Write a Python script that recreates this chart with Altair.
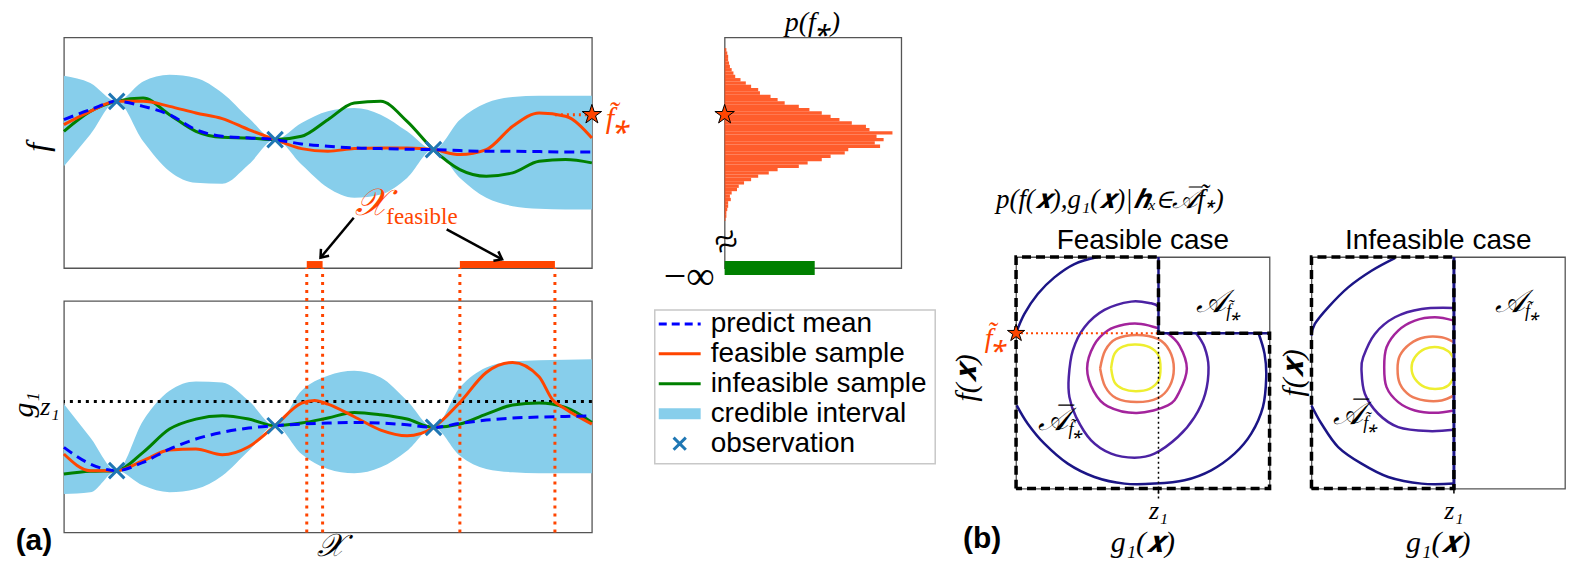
import altair as alt
import pandas as pd

# ---------------- fonts / colours ----------------
SERIF = "Liberation Serif"
SANS = "Liberation Sans"
ORANGE = "#ff4500"
GREEN = "#008000"
BLUE = "#0000ff"
SKY = "#87ceeb"
OBSC = "#1f77b4"
XPATH = "M-1,-1L1,1M1,-1L-1,1"
HEADPATH = "M-1,-0.75L0,0L-1,0.75"
STARPATH = ("M0,-1L0.225,-0.309L0.951,-0.309L0.363,0.118L0.588,0.809L0,0.382"
            "L-0.588,0.809L-0.363,0.118L-0.951,-0.309L-0.225,-0.309Z")

MX = "\U0001D4B3"      # script X
MA = "\U0001D49C"      # script A
BX = "\U0001D499"      # bold italic x
BH = "\U0001D489"      # bold italic h
FSTAR_TXT = "f\u0303\u204e"

# ---------------- panel (a) data ----------------
X_GRID = [0.0, 0.05, 0.1, 0.15, 0.2, 0.25, 0.3, 0.35, 0.4, 0.45, 0.5,
          0.55, 0.6, 0.65, 0.7, 0.75, 0.8, 0.85, 0.9, 0.95, 1.0]

F_UPPER = [578, 556, 501, 561, 581, 571, 526, 451, 386, 436, 471, 481, 461, 411, 356, 446, 496, 514, 518, 518, 518]
F_LOWER = [306, 401, 501, 381, 291, 256, 253, 311, 386, 311, 241, 211, 221, 271, 356, 271, 211, 186, 178, 176, 176]
F_MEAN = [446, 476, 501, 486, 461, 416, 396, 391, 386, 373, 366, 361, 359, 357, 356, 353, 351, 351, 350, 349, 349]
F_FEAS = [431, 471, 501, 501, 486, 466, 449, 416, 386, 359, 351, 359, 361, 361, 356, 341, 356, 426, 466, 456, 391]
F_INFEAS = [411, 471, 501, 511, 461, 411, 393, 391, 386, 396, 446, 496, 501, 441, 356, 296, 276, 286, 321, 326, 316]

G_UPPER = [386, 286, 186, 336, 426, 454, 451, 396, 321, 426, 471, 486, 466, 396, 316, 436, 496, 514, 518, 519, 521]
G_LOWER = [116, 121, 186, 141, 121, 131, 171, 246, 321, 236, 191, 178, 196, 246, 316, 231, 191, 181, 178, 178, 178]
G_MEAN = [256, 206, 186, 211, 251, 281, 301, 314, 321, 326, 329, 331, 329, 324, 316, 328, 338, 344, 347, 349, 351]
G_INFEAS = [176, 184, 186, 241, 311, 341, 351, 341, 321, 329, 344, 361, 354, 341, 316, 326, 356, 383, 389, 376, 331]
X_FEAS_G = [0.0, 0.05, 0.1, 0.15, 0.2, 0.25, 0.3, 0.35, 0.4, 0.45, 0.475, 0.5, 0.55,
            0.6, 0.65, 0.7, 0.75, 0.8, 0.85, 0.9, 0.925, 0.95, 1.0]
G_FEAS = [236, 186, 186, 216, 248, 251, 234, 258, 321, 389, 397, 386, 348,
          308, 291, 316, 391, 481, 511, 468, 400, 371, 326]

OBS_X = [0.1, 0.4, 0.7]
OBS_F = [501, 386, 356]
OBS_G = [186, 321, 316]

F_STAR = 461
Z1 = 394
FEAS_LO = [0.46, 0.75]
FEAS_HI = [0.49, 0.93]

ARROW_X0 = [0.549, 0.725]
ARROW_F0 = [151, 116]
ARROW_X1 = [0.486, 0.830]
ARROW_F1 = [31, 26]
ARROW_ANGLE = [130, 28]

HIST_LO = list(range(141, 661, 10))
HIST_P = [0.005, 0.01, 0.01, 0.015, 0.02, 0.02, 0.035, 0.03, 0.04, 0.07, 0.08, 0.11, 0.15,
          0.19, 0.25, 0.3, 0.42, 0.47, 0.55, 0.6, 0.68, 0.7, 0.88, 0.85, 0.9, 0.86,
          0.95, 0.82, 0.8, 0.72, 0.65, 0.6, 0.55, 0.48, 0.42, 0.34, 0.3, 0.26, 0.2,
          0.19, 0.15, 0.12, 0.09, 0.06, 0.05, 0.04, 0.03, 0.025, 0.02, 0.02, 0.015, 0.01]
HIST_BIN = 10
P_NEG_INF = 0.51

LEGEND_LABELS = ["predict mean", "feasible sample", "infeasible sample",
                 "credible interval", "observation"]
LEGEND_ROW = [0, 1, 2, 3, 4]

# ---------------- panel (b) data ----------------
Z1_B = 427
FSTAR_B = 467
U_MAX = 760
V_MAX = 696
CONTOUR_COLORS = ["#1b1586", "#4b22a3", "#a3249c", "#ef7d57", "#eeee30"]

FC_YELLOW_U = [285, 295, 320, 359, 400, 427, 433, 427, 400, 359, 320, 295, 285]
FC_YELLOW_V = [362, 405, 427, 433, 425, 400, 362, 325, 300, 293, 300, 320, 362]
FC_ORANGE_U = [252, 267, 300, 362, 425, 460, 473, 460, 425, 362, 300, 267, 252]
FC_ORANGE_V = [361, 415, 450, 462, 450, 415, 361, 307, 272, 260, 272, 307, 361]
FC_PURPLE_U = [427, 375, 325, 275, 233, 213, 233, 275, 362, 455, 490, 512, 490, 454]
FC_PURPLE_V = [482, 495, 493, 475, 430, 361, 292, 247, 227, 250, 292, 361, 430, 467]
FC_VIOLET_U = [427, 405, 345, 265, 205, 170, 158, 160, 180, 225, 285, 355, 415, 485, 535, 567, 577, 565, 540]
FC_VIOLET_V = [547, 557, 562, 537, 485, 415, 335, 275, 215, 145, 105, 93, 105, 155, 215, 285, 365, 425, 467]
FC_OUTER1_U = [0, 25, 65, 115, 175, 245]
FC_OUTER1_V = [467, 525, 585, 635, 675, 696]
FC_OUTER2_U = [727, 745, 750, 740, 705, 655, 585, 505, 415, 325, 235, 155, 85, 35, 2]
FC_OUTER2_V = [467, 405, 335, 245, 165, 105, 55, 25, 15, 15, 35, 75, 135, 195, 250]

IC_YELLOW_U = [427, 410, 380, 340, 310, 300, 310, 340, 380, 410, 427]
IC_YELLOW_V = [390, 413, 425, 420, 395, 363, 330, 305, 300, 310, 335]
IC_ORANGE_U = [427, 390, 340, 295, 265, 258, 265, 295, 340, 390, 427]
IC_ORANGE_V = [440, 455, 455, 435, 400, 360, 315, 280, 265, 265, 280]
IC_PURPLE_U = [427, 370, 310, 260, 225, 218, 225, 260, 310, 370, 427]
IC_PURPLE_V = [505, 515, 505, 475, 425, 365, 305, 260, 235, 228, 235]
IC_VIOLET_U = [427, 330, 250, 190, 155, 150, 160, 200, 260, 350, 427]
IC_VIOLET_V = [543, 540, 515, 465, 395, 355, 285, 225, 185, 173, 177]
IC_OUTER1_U = [250, 180, 110, 50, 10, 0]
IC_OUTER1_V = [693, 655, 605, 545, 495, 460]
IC_OUTER2_U = [0, 30, 80, 150, 230, 330, 427]
IC_OUTER2_V = [250, 195, 125, 75, 35, 15, 15]

# ---------------- sizes ----------------
W_A, H_F, H_G = 529, 231, 232
W_H = 177
W_L, H_L = 281, 154
W_B, H_B = 254, 232

sx = alt.Scale(domain=[0, 1], nice=False, zero=False)
sf = alt.Scale(domain=[0, 693], nice=False, zero=False)
sg = alt.Scale(domain=[0, 696], nice=False, zero=False)
sh = alt.Scale(domain=[0, 1], nice=False, zero=False)
su = alt.Scale(domain=[0, U_MAX], nice=False, zero=False)
sv = alt.Scale(domain=[0, V_MAX], nice=False, zero=False)

ONE = pd.DataFrame({"k": [0]})


def note(text, x, y, size, font=SERIF, style="italic", color="black", angle=0,
         align="center", baseline="middle", weight="normal"):
    return alt.Chart(ONE).mark_text(
        text=text, font=font, fontSize=size, fontStyle=style, fontWeight=weight,
        color=color, angle=angle, align=align, baseline=baseline
    ).encode(x=alt.value(x), y=alt.value(y))


HIDDEN = alt.ViewBackground(stroke="transparent")


def spacer(w, h):
    return alt.Chart(ONE).mark_text(text=" ").encode(
        x=alt.value(0), y=alt.value(0)).properties(width=w, height=h, view=HIDDEN)


def X(field="x"):
    return alt.X(f"{field}:Q", scale=sx, axis=None)


def curve(df, field, scale, color, dash=None):
    kw = dict(color=color, strokeWidth=3, interpolate="monotone")
    if dash:
        kw["strokeDash"] = dash
    return alt.Chart(df).mark_line(**kw).encode(
        x=X(), y=alt.Y(f"{field}:Q", scale=scale, axis=None))


def star(df, xenc, yenc, size):
    return alt.Chart(df).mark_point(
        shape=STARPATH, size=size, filled=True, fill=ORANGE, stroke="black",
        strokeWidth=1, opacity=1).encode(x=xenc, y=yenc)


df_f = pd.DataFrame({"x": X_GRID, "hi": F_UPPER, "lo": F_LOWER, "mean": F_MEAN,
                     "feas": F_FEAS, "infeas": F_INFEAS})
df_g = pd.DataFrame({"x": X_GRID, "hi": G_UPPER, "lo": G_LOWER, "mean": G_MEAN,
                     "infeas": G_INFEAS})
df_gfeas = pd.DataFrame({"x": X_FEAS_G, "feas": G_FEAS})
df_obs = pd.DataFrame({"x": OBS_X, "f": OBS_F, "g": OBS_G})
df_fs = pd.DataFrame({"lo": FEAS_LO, "hi": FEAS_HI})
df_edges = pd.DataFrame({"x": FEAS_LO + FEAS_HI})
df_arrow = pd.DataFrame({"x0": ARROW_X0, "f0": ARROW_F0, "x1": ARROW_X1, "f1": ARROW_F1})

arrow_heads = [
    alt.Chart(df_arrow.iloc[[i]]).mark_point(
        shape=HEADPATH, size=200, strokeWidth=2.5, color="black", filled=False,
        opacity=1, angle=ARROW_ANGLE[i]).encode(
        x=X("x1"), y=alt.Y("f1:Q", scale=sf, axis=None))
    for i in range(len(ARROW_ANGLE))
]

f_layers = [
    alt.Chart(df_f).mark_area(color=SKY, interpolate="monotone").encode(
        x=X(), y=alt.Y("lo:Q", scale=sf, axis=None), y2="hi:Q"),
    curve(df_f, "infeas", sf, GREEN),
    curve(df_f, "feas", sf, ORANGE),
    curve(df_f, "mean", sf, BLUE, [10, 6]),
    alt.Chart(df_obs).mark_point(shape=XPATH, size=240, strokeWidth=3, color=OBSC,
                                 filled=False, opacity=1).encode(
        x=X(), y=alt.Y("f:Q", scale=sf, axis=None)),
    alt.Chart(df_fs).mark_rect(color=ORANGE).encode(
        x=X("lo"), x2="hi:Q", y=alt.value(H_F - 7), y2=alt.value(H_F)),
    alt.Chart(pd.DataFrame({"xa": [FEAS_HI[1]], "xb": [1.0], "f": [F_STAR]})).mark_rule(
        color=ORANGE, strokeDash=[2, 4], strokeWidth=3).encode(
        x=X("xa"), x2="xb:Q", y=alt.Y("f:Q", scale=sf, axis=None)),
    star(pd.DataFrame({"x": [1.0], "f": [F_STAR]}), X(),
         alt.Y("f:Q", scale=sf, axis=None), 420),
    alt.Chart(df_arrow).mark_rule(color="black", strokeWidth=2.5).encode(
        x=X("x0"), x2="x1:Q", y=alt.Y("f0:Q", scale=sf, axis=None), y2="f1:Q"),
] + arrow_heads + [
    note(FSTAR_TXT, 555, 82, 30, color=ORANGE),
    note(MX, 308, 167, 38, color=ORANGE),
    note("feasible", 323, 180, 23, style="normal", color=ORANGE, align="left"),
    note("f", -26, 110, 32, angle=270),
]
f_chart = alt.layer(*f_layers).properties(width=W_A, height=H_F)

g_layers = [
    alt.Chart(df_g).mark_area(color=SKY, interpolate="monotone").encode(
        x=X(), y=alt.Y("lo:Q", scale=sg, axis=None), y2="hi:Q"),
    alt.Chart(pd.DataFrame({"z": [Z1]})).mark_rule(
        color="black", strokeDash=[3, 5], strokeWidth=3).encode(
        y=alt.Y("z:Q", scale=sg, axis=None)),
    alt.Chart(df_edges).mark_rule(color=ORANGE, strokeDash=[3, 5], strokeWidth=3).encode(
        x=X(), y=alt.value(H_G), y2=alt.value(-33)),
    curve(df_g, "infeas", sg, GREEN),
    curve(df_gfeas, "feas", sg, ORANGE),
    curve(df_g, "mean", sg, BLUE, [10, 6]),
    alt.Chart(df_obs).mark_point(shape=XPATH, size=240, strokeWidth=3, color=OBSC,
                                 filled=False, opacity=1).encode(
        x=X(), y=alt.Y("g:Q", scale=sg, axis=None)),
    note("z\u2081", -14, 106, 26),
    note("g\u2081", -40, 104, 30, angle=270),
    note(MX, 267, 246, 32),
    note("(a)", -30, 241, 30, font=SANS, style="normal", weight="bold"),
]
g_chart = alt.layer(*g_layers).properties(width=W_A, height=H_G)

# ---------------- histogram ----------------
df_hist = pd.DataFrame({"lo": HIST_LO, "p": HIST_P})
df_hist["hi"] = df_hist["lo"] + HIST_BIN
df_hist["z"] = 0.0
h_layers = [
    alt.Chart(df_hist).mark_rect(color="#ff4f1a", opacity=0.92).encode(
        x=alt.X("z:Q", scale=sh, axis=None), x2="p:Q",
        y=alt.Y("lo:Q", scale=sf, axis=None), y2="hi:Q"),
    alt.Chart(pd.DataFrame({"z": [0.0], "p": [P_NEG_INF]})).mark_rule(
        color=GREEN, strokeWidth=14).encode(
        x=alt.X("z:Q", scale=sh, axis=None), x2="p:Q", y=alt.value(H_F)),
    star(pd.DataFrame({"z": [0.0], "f": [F_STAR]}), alt.X("z:Q", scale=sh, axis=None),
         alt.Y("f:Q", scale=sf, axis=None), 420),
    note("\u2248", 2, 205, 42, style="normal", angle=335),
    note("\u2212\u221e", -10, 240, 40, style="normal", align="right"),
    note("p(f\u204e)", 88, -14, 28),
]
hist_chart = alt.layer(*h_layers).properties(width=W_H, height=H_F)

# ---------------- legend ----------------
ly = alt.Scale(domain=[0, 4], range=[14, 134], nice=False, zero=False)
LY = alt.Y("row:Q", scale=ly, axis=None)
df_leg = pd.DataFrame({"row": LEGEND_ROW, "label": LEGEND_LABELS})


def leg_row(i):
    return df_leg.iloc[[i]]


leg_layers = [
    alt.Chart(leg_row(0)).mark_rule(color=BLUE, strokeDash=[8, 5], strokeWidth=3).encode(
        x=alt.value(4), x2=alt.value(46), y=LY),
    alt.Chart(leg_row(1)).mark_rule(color=ORANGE, strokeWidth=3).encode(
        x=alt.value(4), x2=alt.value(46), y=LY),
    alt.Chart(leg_row(2)).mark_rule(color=GREEN, strokeWidth=3).encode(
        x=alt.value(4), x2=alt.value(46), y=LY),
    alt.Chart(leg_row(3)).mark_rule(color=SKY, strokeWidth=11).encode(
        x=alt.value(4), x2=alt.value(46), y=LY),
    alt.Chart(leg_row(4)).mark_point(shape=XPATH, size=150, strokeWidth=3, color=OBSC,
                                     filled=False, opacity=1).encode(
        x=alt.value(25), y=LY),
    alt.Chart(df_leg).mark_text(
        align="left", baseline="middle", font=SANS, fontSize=28).encode(
        x=alt.value(56), y=LY, text="label:N"),
]
legend_chart = alt.layer(*leg_layers).properties(
    width=W_L, height=H_L,
    view=alt.ViewBackground(stroke="#c8c8c8", strokeWidth=1.5))


# ---------------- panel (b) ----------------
def contour(us, vs, color):
    df = pd.DataFrame({"u": us, "v": vs, "i": list(range(len(us)))})
    return alt.Chart(df).mark_line(
        color=color, strokeWidth=2.5, interpolate="cardinal").encode(
        x=alt.X("u:Q", scale=su, axis=None), y=alt.Y("v:Q", scale=sv, axis=None),
        order="i:Q")


def polyline(us, vs, color, width, dash=None):
    df = pd.DataFrame({"u": us, "v": vs, "i": list(range(len(us)))})
    kw = dict(color=color, strokeWidth=width)
    if dash:
        kw["strokeDash"] = dash
    return alt.Chart(df).mark_line(**kw).encode(
        x=alt.X("u:Q", scale=su, axis=None), y=alt.Y("v:Q", scale=sv, axis=None),
        order="i:Q")


def region_labels(au, av, bu, bv):
    out = []
    for (u, v, t) in [(au, av, MA), (bu, bv, MA + "\u0305")]:
        d = pd.DataFrame({"u": [u], "v": [v]})
        out.append(alt.Chart(d).mark_text(
            text=t, font=SERIF, fontSize=32, fontStyle="italic", align="center",
            baseline="middle").encode(x=alt.X("u:Q", scale=su, axis=None),
                                      y=alt.Y("v:Q", scale=sv, axis=None)))
        out.append(alt.Chart(d).mark_text(
            text=FSTAR_TXT, font=SERIF, fontSize=18, fontStyle="italic", align="left",
            baseline="middle", dx=15, dy=10).encode(
            x=alt.X("u:Q", scale=su, axis=None), y=alt.Y("v:Q", scale=sv, axis=None)))
    return out


NAVY = CONTOUR_COLORS[0]


def z_parts():
    tick = alt.Chart(pd.DataFrame({"u": [Z1_B], "v0": [-15], "v1": [0]})).mark_rule(
        color="black", strokeWidth=1.5).encode(
        x=alt.X("u:Q", scale=su, axis=None), y=alt.Y("v0:Q", scale=sv, axis=None),
        y2="v1:Q")
    lab = alt.Chart(pd.DataFrame({"u": [Z1_B]})).mark_text(
        text="z\u2081", font=SERIF, fontSize=26, fontStyle="italic",
        baseline="middle").encode(
        x=alt.X("u:Q", scale=su, axis=None), y=alt.value(254))
    return [tick, lab]


feas_layers = [
    contour(FC_OUTER1_U, FC_OUTER1_V, CONTOUR_COLORS[0]),
    contour(FC_OUTER2_U, FC_OUTER2_V, CONTOUR_COLORS[0]),
    contour(FC_VIOLET_U, FC_VIOLET_V, CONTOUR_COLORS[1]),
    contour(FC_PURPLE_U, FC_PURPLE_V, CONTOUR_COLORS[2]),
    contour(FC_ORANGE_U, FC_ORANGE_V, CONTOUR_COLORS[3]),
    contour(FC_YELLOW_U, FC_YELLOW_V, CONTOUR_COLORS[4]),
    alt.Chart(pd.DataFrame({"u": [Z1_B], "v0": [-30], "v1": [FSTAR_B]})).mark_rule(
        color="black", strokeDash=[2, 3], strokeWidth=1.5).encode(
        x=alt.X("u:Q", scale=su, axis=None), y=alt.Y("v0:Q", scale=sv, axis=None),
        y2="v1:Q"),
    alt.Chart(pd.DataFrame({"u0": [0], "u1": [Z1_B], "v": [FSTAR_B]})).mark_rule(
        color=ORANGE, strokeDash=[2, 3], strokeWidth=2).encode(
        x=alt.X("u0:Q", scale=su, axis=None), x2="u1:Q",
        y=alt.Y("v:Q", scale=sv, axis=None)),
    polyline([Z1_B, Z1_B, U_MAX], [V_MAX, FSTAR_B, FSTAR_B], NAVY, 2.5),
    polyline([0, 0, Z1_B, Z1_B, U_MAX, U_MAX, 0],
             [0, V_MAX, V_MAX, FSTAR_B, FSTAR_B, 0, 0], "black", 3.5, [9, 5]),
    star(pd.DataFrame({"u": [0], "v": [FSTAR_B]}), alt.X("u:Q", scale=su, axis=None),
         alt.Y("v:Q", scale=sv, axis=None), 330),
] + z_parts() + [
    note(FSTAR_TXT, -20, 82, 28, color=ORANGE),
    note("Feasible case", W_B / 2, -8, 28, font=SANS, style="normal",
         baseline="alphabetic"),
    note("f(" + BX + ")", -49, 121, 30, angle=270),
    note("g\u2081(" + BX + ")", W_B / 2, 287, 30),
    note("(b)", -34, 283, 30, font=SANS, style="normal", weight="bold"),
] + region_labels(585, 562, 112, 205)
feas_chart = alt.layer(*feas_layers).properties(width=W_B, height=H_B)

infeas_layers = [
    contour(IC_OUTER1_U, IC_OUTER1_V, CONTOUR_COLORS[0]),
    contour(IC_OUTER2_U, IC_OUTER2_V, CONTOUR_COLORS[0]),
    contour(IC_VIOLET_U, IC_VIOLET_V, CONTOUR_COLORS[1]),
    contour(IC_PURPLE_U, IC_PURPLE_V, CONTOUR_COLORS[2]),
    contour(IC_ORANGE_U, IC_ORANGE_V, CONTOUR_COLORS[3]),
    contour(IC_YELLOW_U, IC_YELLOW_V, CONTOUR_COLORS[4]),
    polyline([Z1_B, Z1_B], [0, V_MAX], NAVY, 3),
    polyline([0, 0, Z1_B, Z1_B, 0], [0, V_MAX, V_MAX, 0, 0], "black", 3.5, [9, 5]),
] + z_parts() + [
    note("Infeasible case", W_B / 2, -8, 28, font=SANS, style="normal",
         baseline="alphabetic"),
    note("f(" + BX + ")", -18, 116, 30, angle=270),
    note("g\u2081(" + BX + ")", W_B / 2, 287, 30),
] + region_labels(595, 560, 110, 225)
infeas_chart = alt.layer(*infeas_layers).properties(width=W_B, height=H_B)

title_b = alt.layer(
    note("p(f(" + BX + "),g\u2081(" + BX + ")|" + BH + "\u2093\u2208" + MA + "\u0305"
         + FSTAR_TXT + ")", 94, 163, 27),
).properties(width=550, height=180, view=HIDDEN)

# ---------------- layout ----------------
# with flush bounds a nested concat counts as zero-sized, so the spacings below
# are the offsets of each block from the start of the previous nested block
col1 = alt.vconcat(f_chart, g_chart, spacing=33, bounds="flush")
col2 = alt.vconcat(
    alt.hconcat(spacer(70, H_F), hist_chart, spacing=0, bounds="flush"),
    legend_chart, spacing=273, bounds="flush")
col3 = alt.vconcat(
    title_b,
    alt.hconcat(feas_chart, infeas_chart, spacing=42, bounds="flush"),
    spacing=40, bounds="flush")
left = alt.hconcat(col1, col2, spacing=592, bounds="flush")

chart = alt.hconcat(left, col3, spacing=954, bounds="flush").properties(
    padding=0
).configure_view(stroke="#555555", strokeWidth=1.3)

chart.save("out.html", embed_options={"renderer": "svg", "actions": False})
